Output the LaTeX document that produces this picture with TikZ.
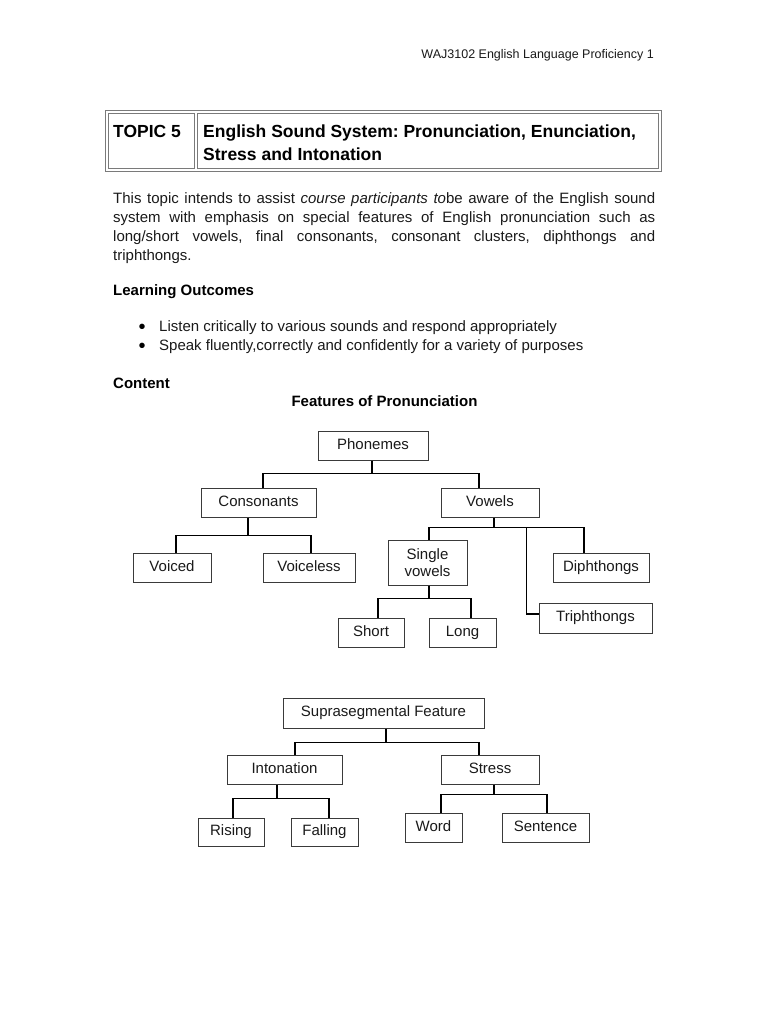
\documentclass[tikz,border=0pt]{standalone}
\usepackage{fontspec}
\setmainfont{Liberation Sans}
\usetikzlibrary{calc}
\definecolor{boxgray}{HTML}{3A3A3A}
\definecolor{framegray}{HTML}{7A7A7A}
\definecolor{txt}{HTML}{1A1A1A}
\newcommand\myBody{\fontsize{15}{17.3}\selectfont}
\newcommand\myHead{\fontsize{12.5}{14}\selectfont}
\newcommand\myTitle{\fontsize{17.5}{21}\selectfont\bfseries}
\frenchspacing
\begin{document}
\frenchspacing
\begin{tikzpicture}[x=1pt,y=-1pt,
  box/.style={draw=boxgray, line width=1pt, inner sep=0pt, font=\myBody, text=txt,
    align=center, text height=11, text depth=3.3},
  conn/.style={line width=1.9pt, black},
  bodytext/.style={inner sep=0pt, font=\myBody, text=txt, anchor=base west},
  headtext/.style={inner sep=0pt, font=\myBody\bfseries, text=black, anchor=base west},
  titletext/.style={inner sep=0pt, font=\myTitle, text=black, anchor=base west},
  bullet/.style={inner sep=0pt, font=\fontsize{20}{20}\selectfont, text=black, anchor=base},
  frame/.style={draw=framegray, line width=1pt},
]
\useasboundingbox (0,0) rectangle (768,1024);
\fill[white] (0,0) rectangle (768,1024);

% header
\node[inner sep=0pt, font=\myHead, text=txt, anchor=base east] (hdr) at (654,59)
  {WAJ3102 English Language Proficiency 1};

% topic box
\draw[frame] (105,111) rectangle (661,172);
\draw[frame] (108,114) rectangle (194,169);
\draw[frame] (197,114) rectangle (658,169);
\node[titletext] (topic) at (113,138) {TOPIC 5};
\node[titletext] (titleA) at (203,138) {English Sound System: Pronunciation, Enunciation,};
\node[titletext] (titleB) at (203,161) {Stress and Intonation};

% paragraph
\node[bodytext] (p1) at (113,204) {\makebox[542pt][s]{This topic intends to assist \textit{course participants to}be aware of the English sound}};
\node[bodytext] (p2) at (113,222.7) {\makebox[542pt][s]{system with emphasis on special features of English pronunciation such as}};
\node[bodytext] (p3) at (113,241.4) {\makebox[542pt][s]{long/short vowels, final consonants, consonant clusters, diphthongs and}};
\node[bodytext] (p4) at (113,260.1) {triphthongs.};

% learning outcomes
\node[headtext] (lo) at (113,295.5) {Learning Outcomes};
\node[bullet] (b1) at (142,333.5) {•};
\node[bodytext] (l1) at (159,331.7) {Listen critically to various sounds and respond appropriately};
\node[bullet] (b2) at (142,352.5) {•};
\node[bodytext] (l2) at (159,350.7) {Speak fluently,correctly and confidently for a variety of purposes};

\node[headtext] (content) at (113,388.5) {Content};
\node[inner sep=0pt, font=\myBody\bfseries, text=black, anchor=base] (fop) at (384.5,406.5) {Features of Pronunciation};

% tree 1
\node[box, minimum width=110, minimum height=29] (phon) at (373,445.5) {Phonemes};
\node[box, minimum width=115, minimum height=29] (cons) at (258.5,502.5) {Consonants};
\node[box, minimum width=98, minimum height=29] (vow) at (490,502.5) {Vowels};
\node[box, minimum width=78, minimum height=29] (voiced) at (172,567.5) {Voiced};
\node[box, minimum width=92, minimum height=29] (voiceless) at (309,567.5) {Voiceless};
\node[box, minimum width=79, minimum height=45, text height=, text depth=] (single) at (427.5,562.5) {Single\\vowels};
\node[box, minimum width=96, minimum height=29] (diph) at (601,567.5) {Diphthongs};
\node[box, minimum width=113, minimum height=30] (tri) at (595.5,618) {Triphthongs};
\node[box, minimum width=66, minimum height=29] (short) at (371,632.5) {Short};
\node[box, minimum width=67, minimum height=29] (long) at (462.5,632.5) {Long};

\coordinate (j1) at ($(phon.south)+(-1,13)$);
\draw[conn] ($(phon.south)+(-1,0)$) -- (j1);
\draw[conn] ($(cons.north)+(4.5,0)$) |- (j1) -| ($(vow.north)+(-11,0)$);

\coordinate (j2) at ($(cons.south)+(-10.5,18)$);
\draw[conn] ($(cons.south)+(-10.5,0)$) -- (j2);
\draw[conn] ($(voiced.north)+(4,0)$) |- (j2) -| ($(voiceless.north)+(2,0)$);

\coordinate (j3) at ($(vow.south)+(4,10)$);
\draw[conn] ($(vow.south)+(4,0)$) -- (j3);
\draw[conn] ($(single.north)+(1.5,0)$) |- (j3) -| ($(diph.north)+(-17,0)$);
\coordinate (j3t) at ($(j3 -| tri.west)+(-12,0)$);
\draw[conn] (j3t) |- ($(tri.west)+(0,-4)$);

\coordinate (j4) at ($(single.south)+(1.5,13)$);
\draw[conn] ($(single.south)+(1.5,0)$) -- (j4);
\draw[conn] ($(short.north)+(7,0)$) |- (j4) -| ($(long.north)+(8.5,0)$);

% tree 2
\node[box, minimum width=201, minimum height=30] (supra) at (383.5,713) {Suprasegmental Feature};
\node[box, minimum width=115, minimum height=29] (inton) at (284.5,769.5) {Intonation};
\node[box, minimum width=98, minimum height=29] (stress) at (490,769.5) {Stress};
\node[box, minimum width=66, minimum height=28] (rising) at (231,832) {Rising};
\node[box, minimum width=67, minimum height=28] (falling) at (324.5,832) {Falling};
\node[box, minimum width=57, minimum height=29] (word) at (433.5,827.5) {Word};
\node[box, minimum width=87, minimum height=29] (sentence) at (545.5,827.5) {Sentence};

\coordinate (j5) at ($(supra.south)+(2.5,14)$);
\draw[conn] ($(supra.south)+(2.5,0)$) -- (j5);
\draw[conn] ($(inton.north)+(10.5,0)$) |- (j5) -| ($(stress.north)+(-11,0)$);

\coordinate (j6) at ($(inton.south)+(-7.5,14)$);
\draw[conn] ($(inton.south)+(-7.5,0)$) -- (j6);
\draw[conn] ($(rising.north)+(2,0)$) |- (j6) -| ($(falling.north)+(4.5,0)$);

\coordinate (j7) at ($(stress.south)+(4,10)$);
\draw[conn] ($(stress.south)+(4,0)$) -- (j7);
\draw[conn] ($(word.north)+(7.5,0)$) |- (j7) -| ($(sentence.north)+(1.5,0)$);
\end{tikzpicture}
\end{document}
